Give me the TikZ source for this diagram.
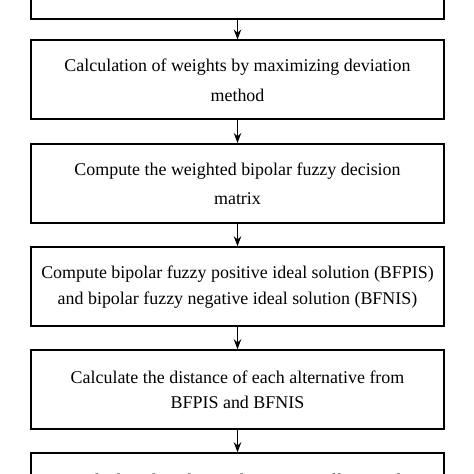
\documentclass[tikz,border=0pt]{standalone}
\usepackage{fontspec}
\setmainfont{Liberation Serif}
\usetikzlibrary{arrows.meta}
\begin{document}
\begin{tikzpicture}[x=1bp,y=-1bp,
  stepbox/.style={draw=black, line width=2bp, minimum width=413bp, minimum height=79bp,
    inner sep=0pt, align=center, font=\fontsize{18}{29}\selectfont},
  flow/.style={-{Stealth[length=10bp,width=7.5bp]}, line width=1.1bp}]
\useasboundingbox (0,0) rectangle (474,474);
\clip (0,0) rectangle (474,474);
\node[stepbox] (b1) at (237.5,-20.5) {};
\node[stepbox, font=\fontsize{18}{30}\selectfont] (b2) at (237.5,80) {Calculation of weights by maximizing deviation\\method};
\node[stepbox] (b3) at (237.5,183.5) {Compute the weighted bipolar fuzzy decision\\matrix};
\node[stepbox, font=\fontsize{18}{26}\selectfont] (b4) at (237.5,286.75) {Compute bipolar fuzzy positive ideal solution (BFPIS)\\and bipolar fuzzy negative ideal solution (BFNIS)};
\node[stepbox, font=\fontsize{18}{24.5}\selectfont] (b5) at (237.5,389.75) {Calculate the distance of each alternative from\\BFPIS and BFNIS};
\node[stepbox, font=\fontsize{18}{26}\selectfont] (b6) at (237.5,492.75) {Calculate the relative closeness coefficient of\\each alternative};
\draw[flow] (b1) -- (b2);
\draw[flow] (b2) -- (b3);
\draw[flow] (b3) -- (b4);
\draw[flow] (b4) -- (b5);
\draw[flow] (b5) -- (b6);
\end{tikzpicture}
\end{document}
